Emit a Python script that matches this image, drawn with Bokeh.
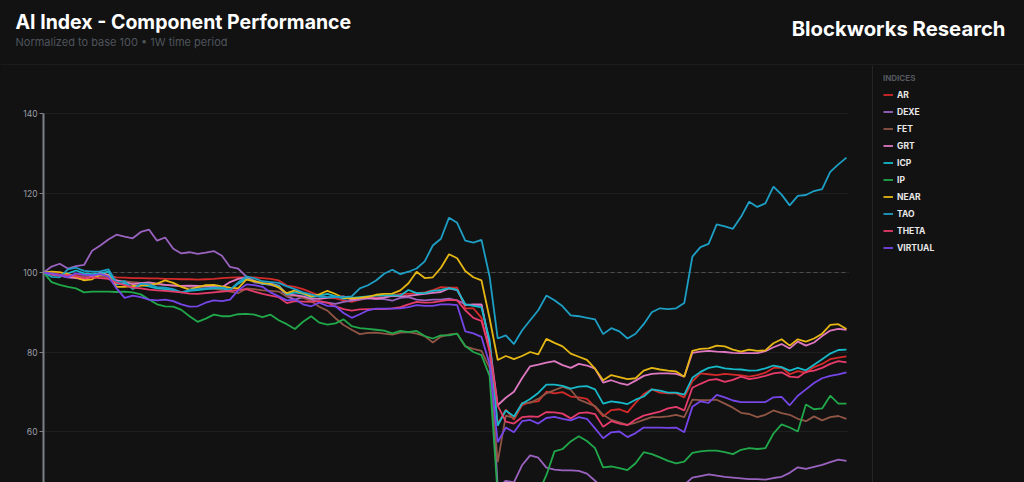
from bokeh.plotting import figure
from bokeh.layouts import column
from bokeh.models import (Range1d, Span, Label, Legend, LegendItem, FixedTicker,
                          BoxAnnotation, ColumnDataSource)
from bokeh.embed import file_html
from bokeh.resources import INLINE

# ---------------- data (normalized to base 100) ----------------
t = list(range(100))

AR = [100, 99.8, 99.6, 99.5, 99.4, 99.6, 99.4, 99.5, 99.3, 98.8,
      98.7, 98.6, 98.6, 98.5, 98.5, 98.4, 98.4, 98.3, 98.3, 98.2,
      98.3, 98.4, 98.6, 98.7, 98.8, 98.8, 98.8, 98.6, 98.4, 98.0,
      96.7, 96.4, 95.8, 95.0, 94.2, 93.8, 93.5, 93.0, 92.6, 93.2,
      93.6, 93.7, 93.8, 94.2, 94.6, 94.6, 94.8, 95.0, 95.6, 96.3,
      96.2, 96.2, 91.0, 91.0, 88.6, 80.0, 61.9, 65.5, 63.0, 66.6,
      67.4, 67.6, 70.0, 69.6, 69.9, 68.8, 68.6, 68.2, 66.2, 63.8,
      65.4, 65.6, 64.8, 67.2, 69.4, 70.6, 69.8, 69.6, 69.6, 68.6,
      72.6, 74.6, 74.4, 74.2, 74.5, 74.3, 74.1, 73.8, 74.2, 74.8,
      76.0, 76.1, 74.4, 75.2, 74.8, 76.2, 77.0, 78.2, 78.6, 78.9]

DEXE = [100, 101.5, 102.2, 101.0, 101.6, 101.9, 105.5, 106.8, 108.3, 109.5,
        109.0, 108.6, 110.2, 110.8, 108.0, 108.8, 106.0, 104.8, 105.1, 104.7,
        105.0, 105.4, 104.2, 101.4, 101.0, 99.0, 97.5, 97.2, 96.8, 96.4,
        94.0, 93.2, 93.8, 93.2, 92.6, 92.4, 92.1, 92.6, 92.9, 93.2,
        93.5, 93.4, 93.3, 92.9, 93.6, 93.8, 93.2, 93.0, 93.2, 93.2,
        93.4, 93.0, 92.0, 91.8, 91.8, 82.0, 46.0, 47.6, 47.2, 51.5,
        54.0, 53.4, 50.9, 50.4, 50.2, 50.2, 50.1, 49.4, 47.6, 45.8,
        45.4, 45.0, 44.8, 45.2, 45.4, 45.0, 45.2, 45.6, 46.0, 46.6,
        48.4, 48.8, 49.2, 48.9, 48.6, 48.4, 48.2, 48.0, 48.0, 47.9,
        48.3, 48.6, 49.6, 51.0, 50.6, 51.1, 51.6, 52.3, 52.9, 52.6]

FET = [100, 99.5, 99.3, 99.2, 99.0, 99.1, 98.9, 99.0, 98.8, 98.0,
       97.8, 97.6, 97.4, 97.2, 97.0, 96.9, 96.8, 96.6, 96.4, 96.2,
       96.0, 95.9, 95.6, 95.2, 94.8, 96.0, 95.8, 95.5, 95.4, 95.2,
       94.0, 94.2, 93.6, 92.8, 91.4, 90.4, 88.5, 86.8, 85.6, 84.5,
       84.8, 84.9, 84.6, 84.4, 84.9, 85.0, 84.6, 84.0, 82.4, 83.9,
       84.4, 84.6, 81.4, 80.8, 80.3, 76.0, 52.3, 64.0, 63.4, 67.2,
       67.2, 68.2, 69.6, 70.4, 71.2, 70.5, 68.0, 67.2, 66.4, 64.2,
       62.9, 62.3, 61.7, 62.2, 62.9, 63.6, 63.6, 63.8, 64.2, 63.6,
       68.0, 67.9, 67.9, 68.0, 67.0, 66.0, 64.7, 64.4, 63.6, 64.2,
       65.3, 64.6, 64.2, 63.2, 62.6, 63.8, 62.8, 63.6, 63.9, 63.2]

GRT = [100, 99.5, 99.2, 98.8, 98.6, 98.3, 99.0, 100.0, 99.4, 98.0,
       97.6, 97.1, 97.3, 97.5, 97.2, 96.9, 96.7, 96.6, 96.7, 96.6,
       96.5, 96.4, 96.3, 97.6, 98.4, 98.8, 97.9, 97.1, 97.2, 96.7,
       94.5, 94.3, 94.0, 93.5, 93.4, 93.6, 93.8, 94.0, 93.2, 93.5,
       93.6, 93.4, 93.7, 94.1, 94.0, 94.1, 94.4, 94.6, 94.9, 95.1,
       96.0, 95.6, 91.8, 92.0, 92.0, 82.0, 66.6, 68.5, 70.0, 73.4,
       76.4, 76.8, 77.3, 77.7, 76.7, 76.0, 77.0, 76.6, 75.8, 72.3,
       72.9, 72.2, 71.7, 72.8, 74.0, 74.5, 74.6, 74.6, 74.5, 73.8,
       79.8, 80.1, 80.3, 80.1, 80.0, 79.8, 79.7, 79.7, 79.7, 80.2,
       81.2, 82.0, 80.9, 82.6, 81.6, 82.4, 84.0, 85.4, 85.8, 85.6]

ICP = [100, 99.6, 99.3, 99.8, 100.5, 99.8, 99.6, 99.8, 100.2, 97.0,
       97.2, 96.0, 96.8, 96.5, 96.0, 95.8, 95.5, 95.0, 95.4, 95.6,
       95.8, 96.0, 96.0, 95.5, 97.2, 98.4, 97.8, 97.2, 97.0, 96.6,
       94.5, 95.0, 94.6, 93.8, 94.2, 94.6, 94.0, 93.4, 93.6, 93.8,
       94.0, 94.2, 94.2, 94.3, 94.2, 95.6, 94.8, 94.8, 95.4, 95.6,
       96.1, 95.6, 92.0, 91.6, 91.2, 83.0, 61.5, 65.3, 63.8, 67.0,
       68.2, 69.7, 71.8, 71.8, 71.5, 70.8, 71.3, 71.4, 70.6, 67.0,
       67.6, 67.3, 66.9, 68.0, 68.8, 70.6, 70.3, 69.8, 69.8, 69.3,
       73.5, 75.0, 76.0, 76.4, 75.9, 75.7, 75.6, 75.3, 75.4, 75.9,
       76.6, 76.2, 75.3, 76.0, 75.4, 76.8, 78.2, 79.6, 80.5, 80.6]

IP = [100, 97.6, 96.9, 96.4, 96.0, 95.0, 95.2, 95.2, 95.2, 95.1,
      95.2, 95.0, 94.5, 93.2, 92.0, 91.5, 91.4, 90.6, 89.0, 87.6,
      88.4, 89.4, 89.0, 89.0, 89.5, 89.6, 89.4, 88.8, 89.4, 88.0,
      87.0, 85.8, 87.6, 89.0, 87.4, 86.9, 87.2, 88.2, 86.5, 86.0,
      85.8, 85.6, 85.4, 84.7, 85.3, 85.0, 85.3, 84.0, 83.4, 84.2,
      84.2, 84.6, 81.5, 80.0, 79.2, 74.0, 44.0, 42.5, 41.0, 42.0,
      43.5, 44.5, 49.0, 55.0, 55.6, 57.5, 58.8, 57.6, 55.8, 51.0,
      51.2, 50.8, 50.3, 52.0, 54.8, 54.3, 53.5, 52.6, 52.0, 52.4,
      54.6, 55.0, 55.2, 55.2, 54.8, 54.3, 55.4, 55.8, 55.6, 55.8,
      59.5, 61.8, 61.0, 60.0, 66.8, 65.6, 65.8, 69.0, 67.0, 67.0]

NEAR = [100, 100.2, 100.1, 99.6, 98.8, 98.0, 98.3, 99.5, 99.2, 96.4,
        96.4, 96.6, 96.7, 96.9, 97.2, 98.0, 97.4, 96.4, 95.7, 96.3,
        96.8, 96.9, 96.5, 96.2, 96.0, 98.2, 97.8, 97.4, 97.1, 96.2,
        94.8, 95.5, 94.8, 94.0, 94.5, 95.4, 94.6, 93.6, 93.5, 93.6,
        93.9, 94.4, 94.6, 94.7, 95.5, 97.3, 100.2, 98.6, 98.8, 101.2,
        104.6, 103.6, 100.4, 98.8, 98.0, 88.5, 78.0, 79.0, 78.2, 79.0,
        80.0, 79.4, 83.3, 82.3, 81.4, 79.6, 78.8, 78.0, 75.8, 72.9,
        74.2, 73.7, 73.2, 73.4, 75.3, 76.0, 75.6, 75.3, 75.1, 73.8,
        80.3, 80.8, 80.9, 81.6, 81.4, 80.6, 80.1, 80.6, 80.3, 80.4,
        82.2, 83.2, 81.6, 83.2, 82.6, 83.4, 84.6, 86.8, 87.0, 85.8]

TAO = [100, 98.9, 98.8, 100.8, 101.2, 100.4, 100.2, 100.3, 100.8, 97.5,
       97.8, 95.8, 97.2, 97.0, 96.3, 96.2, 95.8, 95.0, 95.6, 95.8,
       96.0, 96.2, 96.2, 95.7, 97.5, 99.0, 98.5, 97.8, 97.6, 97.4,
       96.5, 95.8, 95.0, 94.5, 93.9, 93.8, 93.9, 93.8, 94.0, 96.0,
       96.8, 98.0, 99.7, 100.7, 99.6, 100.2, 101.0, 102.8, 106.8, 108.5,
       113.8, 112.5, 108.0, 107.5, 108.2, 99.0, 83.4, 84.2, 82.0, 85.4,
       88.0, 90.5, 94.2, 93.0, 91.5, 89.2, 89.0, 88.6, 88.2, 84.5,
       86.0, 85.2, 83.4, 84.6, 87.0, 90.0, 91.0, 90.8, 91.0, 92.3,
       104.0, 106.4, 107.2, 112.1, 111.6, 111.0, 114.0, 117.8, 116.5, 117.4,
       121.6, 119.6, 116.9, 119.3, 119.5, 120.5, 121.0, 125.3, 127.2, 128.9]

THETA = [100, 99.6, 99.2, 99.4, 99.0, 98.6, 98.8, 98.6, 98.4, 97.4,
         96.8, 96.2, 96.0, 95.7, 95.5, 95.4, 95.2, 95.0, 94.7, 94.6,
         94.8, 95.0, 95.2, 95.4, 95.6, 95.8, 95.2, 94.6, 94.2, 93.8,
         92.3, 92.8, 92.7, 92.6, 92.8, 92.4, 91.5, 90.8, 90.4, 90.7,
         90.8, 90.8, 90.8, 91.0, 91.3, 92.0, 92.6, 92.4, 92.5, 92.8,
         93.1, 93.0, 90.5, 88.6, 87.8, 80.5, 66.5, 62.5, 62.0, 63.6,
         63.8, 63.7, 64.9, 64.8, 64.5, 63.3, 64.6, 64.8, 64.4, 61.2,
         62.6, 62.0, 61.6, 63.0, 64.0, 64.5, 65.0, 65.8, 66.2, 65.3,
         71.0, 72.0, 72.9, 73.2, 72.5, 73.0, 73.8, 73.2, 73.5, 74.0,
         74.6, 74.9, 73.8, 73.6, 75.0, 75.3, 76.0, 77.0, 77.7, 77.4]

VIRTUAL = [100, 99.8, 99.4, 98.8, 99.8, 99.4, 99.3, 99.6, 99.0, 96.0,
           93.6, 94.2, 93.8, 93.2, 93.0, 93.2, 92.8, 92.0, 91.4, 91.5,
           92.4, 93.0, 92.8, 93.2, 95.5, 97.0, 96.8, 96.4, 95.0, 94.0,
           93.0, 93.2, 92.0, 91.5, 92.4, 91.6, 91.5, 89.8, 88.6, 89.5,
           90.5, 90.9, 90.9, 90.9, 91.0, 91.3, 91.8, 91.6, 91.6, 92.0,
           92.0, 91.8, 85.2, 84.7, 83.8, 77.0, 57.3, 61.0, 59.8, 62.6,
           62.9, 62.0, 63.4, 63.7, 63.2, 62.8, 63.6, 63.2, 60.8, 58.3,
           59.8, 60.0, 58.6, 59.6, 61.0, 61.0, 61.0, 60.9, 61.0, 59.8,
           66.2, 67.6, 67.2, 69.2, 68.6, 67.8, 67.4, 67.4, 67.4, 67.4,
           68.6, 68.7, 66.6, 69.0, 70.6, 72.2, 73.4, 74.0, 74.4, 74.9]

names = ["AR", "DEXE", "FET", "GRT", "ICP", "IP", "NEAR", "TAO", "THETA", "VIRTUAL"]
values = [AR, DEXE, FET, GRT, ICP, IP, NEAR, TAO, THETA, VIRTUAL]
colors = ["#d42a2a", "#9a63c0", "#8f5545", "#de78c0", "#17b9c9",
          "#20a84a", "#e6b614", "#1d9ec4", "#e63c6b", "#7646e8"]
y_ticks = [40, 60, 80, 100, 120, 140]

TITLE = "AI Index - Component Performance"
SUBTITLE = "Normalized to base 100 \u2022 1W time period"
BRAND = "Blockworks Research"
LEGEND_TITLE = "INDICES"

BG = "#121212"
SEP = "#262626"
FONT = "Inter"

# ---------------- header strip (page y 0..65) ----------------
head = figure(width=1024, height=65, output_backend="svg", toolbar_location=None,
              x_range=Range1d(0, 1024), y_range=Range1d(65, 0),
              x_axis_location=None, y_axis_location=None,
              min_border=0, min_border_left=0, min_border_right=0,
              min_border_top=0, min_border_bottom=0,
              background_fill_color=BG, border_fill_color=BG, outline_line_color=None)
head.frame_align = False
head.grid.visible = False
head.add_layout(Span(location=64.5, dimension="width", line_color=SEP, line_width=1))


def lab(text, x, y, size, color, bold=False, align="left"):
    head.add_layout(Label(x=x, y=y, text=text, text_font=FONT, text_font_size=size,
                          text_color=color, text_font_style="bold" if bold else "normal",
                          text_align=align, text_baseline="middle"))


lab(TITLE, 15, 21, "19.5px", "#ffffff", bold=True)
lab(SUBTITLE, 15, 41.5, "11px", "#4f545c")
lab(BRAND, 1005, 28, "20.3px", "#ffffff", bold=True, align="right")

# ---------------- main chart (page y 65..482) ----------------
X_END = 120.95     # frame spans page x 43..1024; last point lands at x~846
p = figure(width=1024, height=417, output_backend="svg", toolbar_location=None,
           x_range=Range1d(0, X_END), y_range=Range1d(47.17, 152.08),
           x_axis_location=None,
           min_border_left=43, min_border_right=0, min_border_top=0, min_border_bottom=0,
           background_fill_color=BG, border_fill_color=BG, outline_line_color=None)
p.frame_align = False

for g in p.xgrid:
    g.visible = False
p.ygrid.ticker = FixedTicker(ticks=y_ticks)
p.ygrid.grid_line_color = "#1f1f1f"
p.ygrid.grid_line_width = 1

ax = p.yaxis[0]
ax.ticker = FixedTicker(ticks=y_ticks)
ax.bounds = (40, 140)
ax.axis_line_color = "#7b8089"
ax.axis_line_width = 2
ax.major_tick_line_color = "#7b8089"
ax.major_tick_out = 4
ax.major_tick_in = 0
ax.minor_tick_line_color = None
ax.major_label_text_color = "#9a9ea6"
ax.major_label_text_font = FONT
ax.major_label_text_font_size = "8.5px"
ax.major_label_standoff = 2

p.add_layout(Span(location=100, dimension="width", line_color="#4d4d4d",
                  line_dash="4 3", line_width=1, level="underlay"))

items = []
for name, vals, col in zip(names, values, colors):
    src = ColumnDataSource(dict(t=t, v=vals))
    r = p.line("t", "v", source=src, line_color=col, line_width=1.8)
    items.append(LegendItem(label=name, renderers=[r]))

# cover the grid to the right of the plotting area (legend panel)
p.add_layout(BoxAnnotation(left=99.25, fill_color=BG, fill_alpha=1, line_alpha=0))
# vertical separator of the legend panel (page x 872)
p.add_layout(Span(location=(872 - 43) / (803 / 99), dimension="height",
                  line_color=SEP, line_width=1))

leg = Legend(items=items, location=(840, 228), title=LEGEND_TITLE)
leg.title_text_font = FONT
leg.title_text_font_size = "8px"
leg.title_text_font_style = "bold"
leg.title_text_color = "#55595f"
leg.title_standoff = 5
leg.label_text_font = FONT
leg.label_text_font_size = "8.5px"
leg.label_text_font_style = "bold"
leg.label_text_color = "#e8e8e8"
leg.glyph_width = 10
leg.glyph_height = 13
leg.label_height = 13
leg.spacing = 4
leg.padding = 0
leg.margin = 0
leg.label_standoff = 4
leg.background_fill_alpha = 0
leg.border_line_alpha = 0
p.add_layout(leg, "center")

layout = column(head, p, spacing=0)

html = file_html(layout, INLINE, template="{% block postamble %}<style>html,body{background:#121212;}</style>{% endblock %}")
open("out.html", "w").write(html)
